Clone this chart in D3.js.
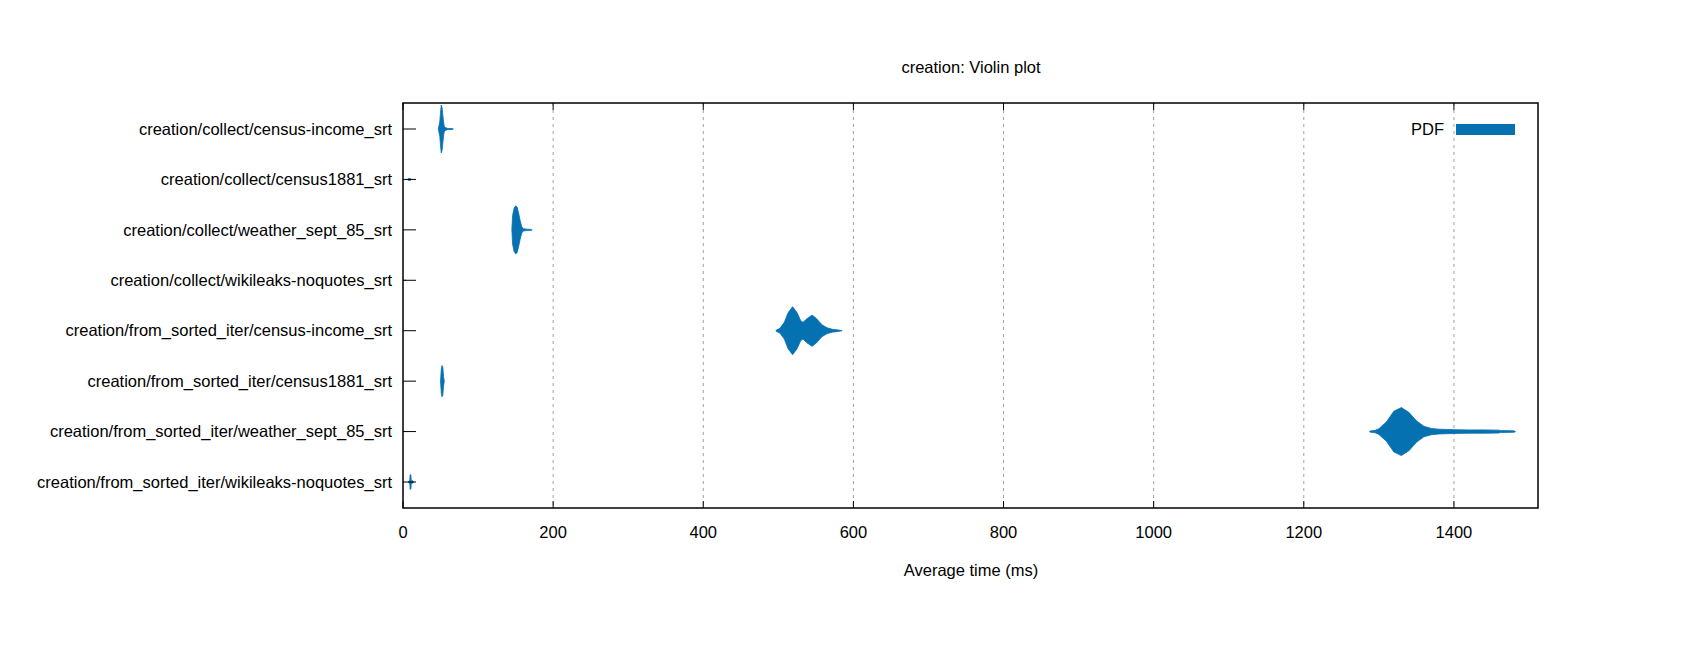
<!DOCTYPE html><html><head><meta charset="utf-8"><script src="https://cdn.jsdelivr.net/npm/d3@7"></script>
<style>body{margin:0;background:#fff}text{font-family:"Liberation Sans",Arial,sans-serif;font-size:16.5px;fill:#000}</style></head><body><svg id="c" width="1686" height="649"></svg><script>
const categories=["creation/collect/census-income_srt","creation/collect/census1881_srt","creation/collect/weather_sept_85_srt","creation/collect/wikileaks-noquotes_srt","creation/from_sorted_iter/census-income_srt","creation/from_sorted_iter/census1881_srt","creation/from_sorted_iter/weather_sept_85_srt","creation/from_sorted_iter/wikileaks-noquotes_srt"];
const xTicks=[0,200,400,600,800,1000,1200,1400];
const v0=[[47,0],[49,0.3],[50,0.7],[51,1],[52,0.9],[53,0.6],[54,0.3],[55,0.1],[57,0.05],[60,0.02],[66,0.02],[67,0]];
const v1=[[6,0],[7,0.04],[10,0.04],[11,0]];
const v2=[[145,0],[146,0.6],[148,0.9],[150,1],[152,0.95],[154,0.7],[156,0.4],[158,0.15],[160,0.05],[165,0.03],[171,0.02],[172,0]];
const v3=[[2,0],[3,0.01],[4,0]];
const v4=[[497,0.02],[502,0.1],[508,0.35],[513,0.75],[519,1],[525,0.75],[530,0.4],[533,0.35],[538,0.5],[545,0.65],[551,0.5],[558,0.25],[565,0.12],[572,0.06],[580,0.03],[585,0]];
const v5=[[50,0],[51,0.5],[52,0.65],[53,0.6],[54,0.2],[55,0]];
const v6=[[1288,0.02],[1295,0.05],[1300,0.12],[1310,0.4],[1320,0.85],[1330,1],[1340,0.8],[1350,0.45],[1360,0.22],[1370,0.13],[1380,0.1],[1400,0.08],[1420,0.07],[1440,0.07],[1460,0.06],[1462,0.04],[1480,0.03],[1482,0]];
const v7=[[7,0],[8,0.05],[9,0.05],[9.5,0.3],[10.5,0.3],[11,0.05],[13,0.05],[14,0]];
const violins=[v0,v1,v2,v3,v4,v5,v6,v7];
const svg=d3.select("#c");
const L=403,R=1538,T=103,B=508;
const x=d3.scaleLinear().domain([0,1512]).range([L,R]);
const y=d3.scalePoint().domain(categories).range([129,482]);
const h=d3.scaleLinear().domain([0,1]).range([0,24]);
xTicks.slice(1).forEach(t=>svg.append("line").attr("x1",x(t)).attr("x2",x(t)).attr("y1",T).attr("y2",B).attr("stroke","#a0a0a0").attr("stroke-dasharray","3,4"));
violins.forEach((v,i)=>{const c=y(categories[i]);
svg.append("path").datum(v).attr("fill","#0571b0").attr("stroke","#0571b0").attr("stroke-width",0.8)
.attr("d",d3.area().x(d=>x(d[0])).y0(d=>c-h(d[1])).y1(d=>c+h(d[1])));});
svg.append("rect").attr("x",L).attr("y",T).attr("width",R-L).attr("height",B-T).attr("fill","none").attr("stroke","#000").attr("stroke-width",1.5);
categories.forEach(c=>{svg.append("line").attr("x1",L).attr("x2",L+13).attr("y1",y(c)).attr("y2",y(c)).attr("stroke","#000");
svg.append("text").attr("x",L-11).attr("y",y(c)).attr("dy","0.35em").attr("text-anchor","end").text(c);});
xTicks.forEach(t=>{svg.append("line").attr("x1",x(t)).attr("x2",x(t)).attr("y1",B).attr("y2",B-7).attr("stroke","#000");
svg.append("line").attr("x1",x(t)).attr("x2",x(t)).attr("y1",T).attr("y2",T+7).attr("stroke","#000");
svg.append("text").attr("x",x(t)).attr("y",538).attr("text-anchor","middle").text(t);});
svg.append("text").attr("x",971).attr("y",73).attr("text-anchor","middle").text("creation: Violin plot");
svg.append("text").attr("x",971).attr("y",576).attr("text-anchor","middle").text("Average time (ms)");
svg.append("text").attr("x",1444).attr("y",129).attr("dy","0.35em").attr("text-anchor","end").text("PDF");
svg.append("rect").attr("x",1456).attr("y",124).attr("width",59).attr("height",11).attr("fill","#0571b0");
</script></body></html>
